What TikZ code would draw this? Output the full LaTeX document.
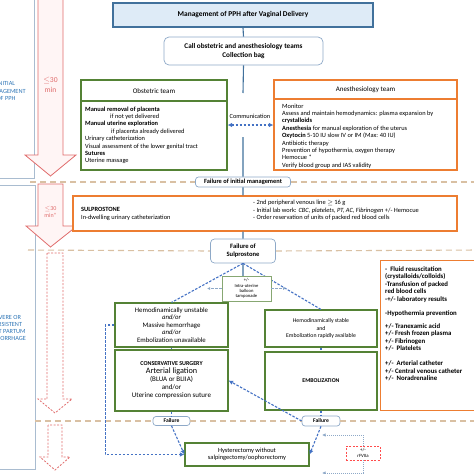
\documentclass[tikz,border=0pt]{standalone}
\usepackage{fontspec}
\setmainfont{Carlito}
\usepackage{xcolor}
\usepackage{tikz}
\usetikzlibrary{arrows.meta, positioning}
\definecolor{steelblue}{HTML}{41719C}
\definecolor{paleblue}{HTML}{DEEBF7}
\definecolor{boxgreen}{HTML}{548235}
\definecolor{boxorange}{HTML}{ED7D31}
\definecolor{greyblue}{HTML}{8EA9C8}
\definecolor{linkblue}{HTML}{4472C4}
\definecolor{sandline}{HTML}{D9C0A3}
\definecolor{arrowred}{HTML}{E06C6C}
\definecolor{labelblue}{HTML}{2E75B6}
\definecolor{framegrey}{HTML}{A9BCD0}

\begin{document}
\begin{tikzpicture}[
    x=1pt, y=-1pt,
    font=\fontsize{6.4}{7.4}\selectfont,
    greenbox/.style={rectangle, draw=boxgreen, line width=1.1pt, fill=white, align=center, inner sep=1pt},
    orangebox/.style={rectangle, draw=boxorange, line width=1.1pt, fill=white},
    roundbox/.style={rectangle, rounded corners=3pt, draw=greyblue, line width=0.7pt, fill=white,
                     align=center, font=\fontsize{6.4}{7.4}\selectfont\bfseries, inner sep=1pt},
    spine/.style={draw=steelblue, line width=1.1pt},
    link/.style={draw=linkblue, line width=1.1pt, dash pattern=on 2.5pt off 1.5pt},
    linkarrow/.style={link, -{Latex[length=4.5pt, width=4.5pt]}},
    dotlink/.style={draw=greyblue, line width=0.8pt, dash pattern=on 1pt off 1pt, -{Latex[length=3.5pt, width=3.5pt]}},
    levelline/.style={draw=sandline, line width=1.1pt, dash pattern=on 6pt off 4pt},
    bigarrow/.style={draw=arrowred, line width=0.8pt, fill=red!4, line join=miter},
    dasharrow/.style={draw=arrowred, line width=0.8pt, fill=white, dash pattern=on 2pt off 1.5pt},
    timelabel/.style={text=arrowred, align=center},
    sidelabel/.style={text=labelblue, align=center, font=\fontsize{6.3}{7.3}\selectfont},
    textblock/.style={anchor=north west, align=left, inner sep=0pt}
  ]
    \clip (0,0) rectangle (474,474);

    \draw[framegrey, line width=0.8pt] (-5,-5) rectangle (34,178);
    \draw[framegrey, line width=0.8pt] (-5,185) rectangle (35,469);
    \node[sidelabel] (initlabel) at (6,91) {INITIAL\\MANAGEMENT\\OF PPH};
    \node[sidelabel] (severelabel) at (7,328) {SEVERE OR\\PERSISTENT\\POST PARTUM\\HEMORRHAGE};

    \draw[bigarrow] (38,-5) -- (38,155) -- (25,155) -- (50.5,176) -- (76,155) -- (63,155) -- (63,-5) -- cycle;
    \draw[bigarrow] (38,184) -- (38,226) -- (26,226) -- (50.5,247) -- (77,226) -- (63,226) -- (63,184) -- cycle;
    \draw[dasharrow] (47,253) -- (47,399) -- (38,399) -- (55,413) -- (72,399) -- (63,399) -- (63,253) -- cycle;
    \draw[dasharrow] (48,425) -- (48,457) -- (40,457) -- (55,470) -- (70,457) -- (62,457) -- (62,425) -- cycle;
    \node[timelabel, font=\fontsize{7.6}{9.5}\selectfont] (time1) at (50.5,85) {$\leq$30\\min};
    \node[timelabel, font=\fontsize{6}{7.6}\selectfont] (time2) at (50.5,212) {$\leq$30\\min*};

    \node[rectangle, draw=steelblue, line width=1.4pt, fill=paleblue, minimum width=260pt, minimum height=24pt,
          font=\fontsize{7.4}{9}\selectfont\bfseries] (mgmt) at (243,15) {Management of PPH after Vaginal Delivery};
    \node[roundbox, rounded corners=5pt, minimum width=159pt, minimum height=28pt,
          font=\fontsize{7.2}{8.8}\selectfont\bfseries] (call) at (243.5,51) {Call obstetric and anesthesiology teams\\Collection bag};

    \coordinate (gaptop) at (243,93);
    \coordinate (gapbot) at (243,137);

    \node[greenbox, minimum width=146pt, minimum height=90pt] (obst) at (154,125) {};
    \node[font=\fontsize{7}{8}\selectfont] (obsthead) at (154,91) {Obstetric team};
    \draw[boxgreen, line width=1.1pt] (obst.west |- 0,101) -- (obst.east |- 0,101);
    \node[textblock] (obsttext) at (85,106.5) {\textbf{Manual removal of placenta}\\
      \hspace*{25pt}if not yet delivered\\
      \textbf{Manual uterine exploration}\\
      \hspace*{26pt}if placenta already delivered\\
      Urinary catheterization\\
      Visual assessment of the lower genital tract\\
      \textbf{Sutures}\\
      Uterine massage};

    \node[orangebox, minimum width=183pt, minimum height=90pt] (anest) at (365.5,125) {};
    \node[font=\fontsize{7}{8}\selectfont] (anesthead) at (365.5,90) {Anesthesiology team};
    \draw[boxorange, line width=1.1pt] (anest.west |- 0,99) -- (anest.east |- 0,99);
    \node[textblock] (anesttext) at (282,103.5) {Monitor\\
      Assess and maintain hemodynamics: plasma expansion by\\
      \textbf{crystalloids}\\
      \textbf{Anesthesia} for manual exploration of the uterus\\
      \textbf{Oxytocin} 5-10 IU slow IV or IM (Max: 40 IU)\\
      Antibiotic therapy\\
      Prevention of hypothermia, oxygen therapy\\
      Hemocue *\\
      Verify blood group and IAS validity};

    \node[roundbox, minimum width=95pt, minimum height=10pt] (fail1) at (243,182) {Failure of initial management};

    \node[orangebox, minimum width=384pt, minimum height=35pt] (sulp) at (265,213.5) {};
    \node[textblock] (sulpleft) at (81,207.5) {\textbf{SULPROSTONE}\\In-dwelling urinary catheterization};
    \node[textblock, font=\fontsize{6.4}{7.9}\selectfont] (sulpright) at (253,199.5) {- 2nd peripheral venous line $\geq$ 16 g\\
      - Initial lab work: \textit{CBC, platelets, PT, AC, Fibrinogen} +/- Hemocue\\
      - Order reservation of units of packed red blood cells};

    \node[roundbox, rounded corners=4pt, minimum width=65pt, minimum height=24pt,
          font=\fontsize{6.6}{8}\selectfont\bfseries] (fail2) at (243,251) {Failure of\\Sulprostone};

    \draw[levelline] (30,182) -- (fail1.west) (fail1.east) -- (480,182);
    \draw[levelline] (28,250) -- (fail2.west) (fail2.east) -- (480,250);

    \draw[spine] (mgmt.south) -- (call.north) (call.south) -- (gaptop) (gapbot) -- (fail1.north)
      (fail1.south) -- (fail1.south |- sulp.north) (fail2.north |- sulp.south) -- (fail2.north)
      (fail2.south) -- (fail2.south |- 0,276);

    \draw[link, {Latex[length=4.5pt, width=4.5pt]}-{Latex[length=4.5pt, width=4.5pt]}] (obst.east) -- (anest.west);
    \node[font=\fontsize{6.3}{7}\selectfont, inner sep=0.5pt] (comm) at (250,116) {Communication};

    \node[greenbox, minimum width=113pt, minimum height=44pt, font=\fontsize{6.8}{7.4}\selectfont] (unstable) at (171.5,325)
      {Hemodinamically unstable\\\textit{and/or}\\Massive hemorrhage\\\textit{and/or}\\Embolization unavailable};
    \node[greenbox, minimum width=113pt, minimum height=61pt, font=\fontsize{7}{8}\selectfont] (cons) at (171.5,380.5)
      {{\fontsize{6}{7}\selectfont\bfseries CONSERVATIVE SURGERY}\\{\fontsize{8.2}{8.5}\selectfont Arterial ligation}\\(BLUA or BLIIA)\\and/or\\Uterine compression suture};
    \node[greenbox, minimum width=112pt, minimum height=37pt, font=\fontsize{5.8}{7.6}\selectfont] (stable) at (321,328.5)
      {Hemodinamically stable\\and\\Embolization rapidly available};
    \node[greenbox, minimum width=112pt, minimum height=58pt, font=\fontsize{5.8}{7}\selectfont\bfseries] (embol) at (321,381) {EMBOLIZATION};

    \draw[link] (fail2.south) -- (unstable.north);
    \draw[link] (fail2.south) -- (stable.north);
    \node[greenbox, draw=boxgreen!70, line width=0.7pt, minimum width=49pt, minimum height=25pt,
          font=\fontsize{4.6}{5.4}\selectfont] (balloon) at (246.5,288.5) {+/-\\Intra-uterine\\balloon\\tamponade};
    \coordinate (balloonL) at (207,288.5);
    \coordinate (balloonR) at (286,288.5);
    \draw[link, draw=greyblue, line width=0.7pt, -{Latex[length=3pt, width=3pt]}] (balloon.west) -- (balloonL);
    \draw[link, draw=greyblue, line width=0.7pt, -{Latex[length=3pt, width=3pt]}] (balloon.east) -- (balloonR);

    \node[orangebox, anchor=north west, minimum width=110pt, minimum height=150pt] (care) at (380,260) {};
    \node[textblock, font=\fontsize{6.8}{7.5}\selectfont\bfseries] (caretext) at (385,266.5) {-\ \ Fluid resuscitation\\
      (crystalloids/colloids)\\
      -Transfusion of packed\\
      red blood cells\\
      -+/- laboratory results\\[6.5pt]
      -Hypothermia prevention\\[5.5pt]
      +/- Tranexamic acid\\
      +/- Fresh frozen plasma\\
      +/- Fibrinogen\\
      +/-\ \ Platelets\\[7.5pt]
      +/-\ \ Arterial catheter\\
      +/- Central venous catheter\\
      +/-\ \ Noradrenaline};

    \node[roundbox, minimum width=37pt, minimum height=9pt, font=\fontsize{5.6}{6.5}\selectfont\bfseries] (failL) at (171.5,421) {Failure};
    \node[roundbox, minimum width=38pt, minimum height=10pt, font=\fontsize{5.6}{6.5}\selectfont\bfseries] (failR) at (321,421) {Failure};
    \draw[levelline] (35,421) -- (failL.west) (failL.east) -- (failR.west) (failR.east) -- (480,421);

    \node[greenbox, minimum width=124pt, minimum height=23pt, font=\fontsize{6.4}{7.6}\selectfont] (hyst) at (247,454.5)
      {Hysterectomy without\\salpingectomy/oophorectomy};
    \node[rectangle, draw=red!70, line width=0.7pt, dash pattern=on 2pt off 1.5pt, minimum width=34pt, minimum height=14pt,
          inner sep=0.5pt, align=center, font=\fontsize{4.8}{5.4}\selectfont] (rf) at (363,453) {+/-\\rFVIIa};
    \coordinate (rfup) at (322,435);
    \coordinate (rfdown) at (322,473);

    \draw[link] (unstable.south) -- (cons.north);
    \draw[link] (stable.south) -- (embol.north);
    \draw[link] (cons.south) -- (failL.north);
    \draw[link] (embol.south) -- (failR.north);
    \draw[linkarrow] (failL.south) -- (hyst.west);
    \draw[linkarrow] (failR.west) -- (cons.east);
    \draw[linkarrow] (failR.south) -- (hyst.east);
    \draw[linkarrow] (unstable.west) -- ++(-9,0) |- (hyst.west);
    \draw[dotlink] (rf.north) |- (rfup);
    \draw[dotlink] (rf.south) |- (rfdown);
\end{tikzpicture}
\end{document}
